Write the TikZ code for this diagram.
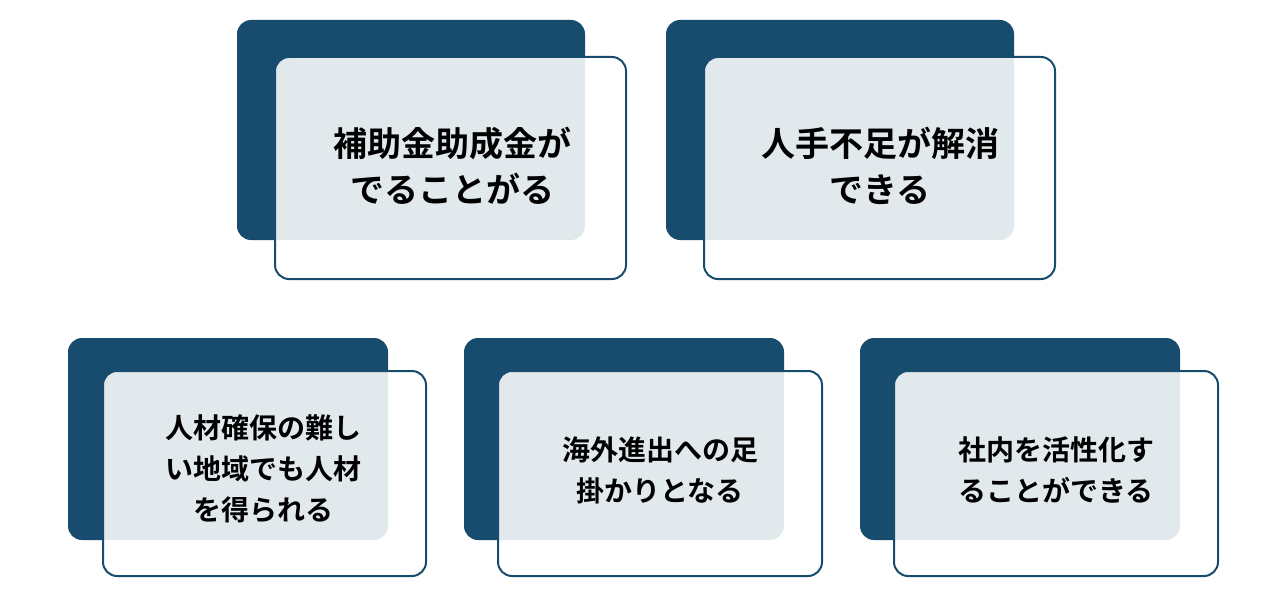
\documentclass[tikz,border=0pt]{standalone}
\usepackage{fontspec}
\newfontfamily\cjk{Noto Sans CJK JP Bold}
\begin{document}
\begin{tikzpicture}[x=1pt,y=-1pt,
  back/.style={fill=darkb,rounded corners=14pt},
  front/.style={draw=darkb,line width=2pt,fill=white,fill opacity=0.88,rounded corners=14pt},
  bigt/.style={font=\cjk\fontsize{34}{46}\selectfont,align=center,text=black},
  smallt/.style={font=\cjk\fontsize{28}{41}\selectfont,align=center,text=black}]
\definecolor{darkb}{HTML}{174C6E}
\useasboundingbox (0,0) rectangle (1274,610);
\fill[white] (0,0) rectangle (1274,610);
% card 1
\fill[back] (237,20) rectangle (585,240);
\draw[front] (275,57) rectangle (626,279);
\node[bigt] (t1) at (452,166) {補助金助成金が\\でることがる};
% card 2
\fill[back] (666,20) rectangle (1014,240);
\draw[front] (704,57) rectangle (1055,279);
\node[bigt] (t2) at (880,166) {人手不足が解消\\できる};
% card 3
\fill[back] (68,338) rectangle (388,540);
\draw[front] (103,371) rectangle (426,576);
\node[smallt] (t3) at (263,469) {人材確保の難し\\い地域でも人材\\を得られる};
% card 4
\fill[back] (464,338) rectangle (784,540);
\draw[front] (498,371) rectangle (822,576);
\node[smallt] (t4) at (660,470) {海外進出への足\\掛かりとなる};
% card 5
\fill[back] (860,338) rectangle (1180,540);
\draw[front] (894,371) rectangle (1218,576);
\node[smallt] (t5) at (1056,470) {社内を活性化す\\ることができる};
\end{tikzpicture}
\end{document}
